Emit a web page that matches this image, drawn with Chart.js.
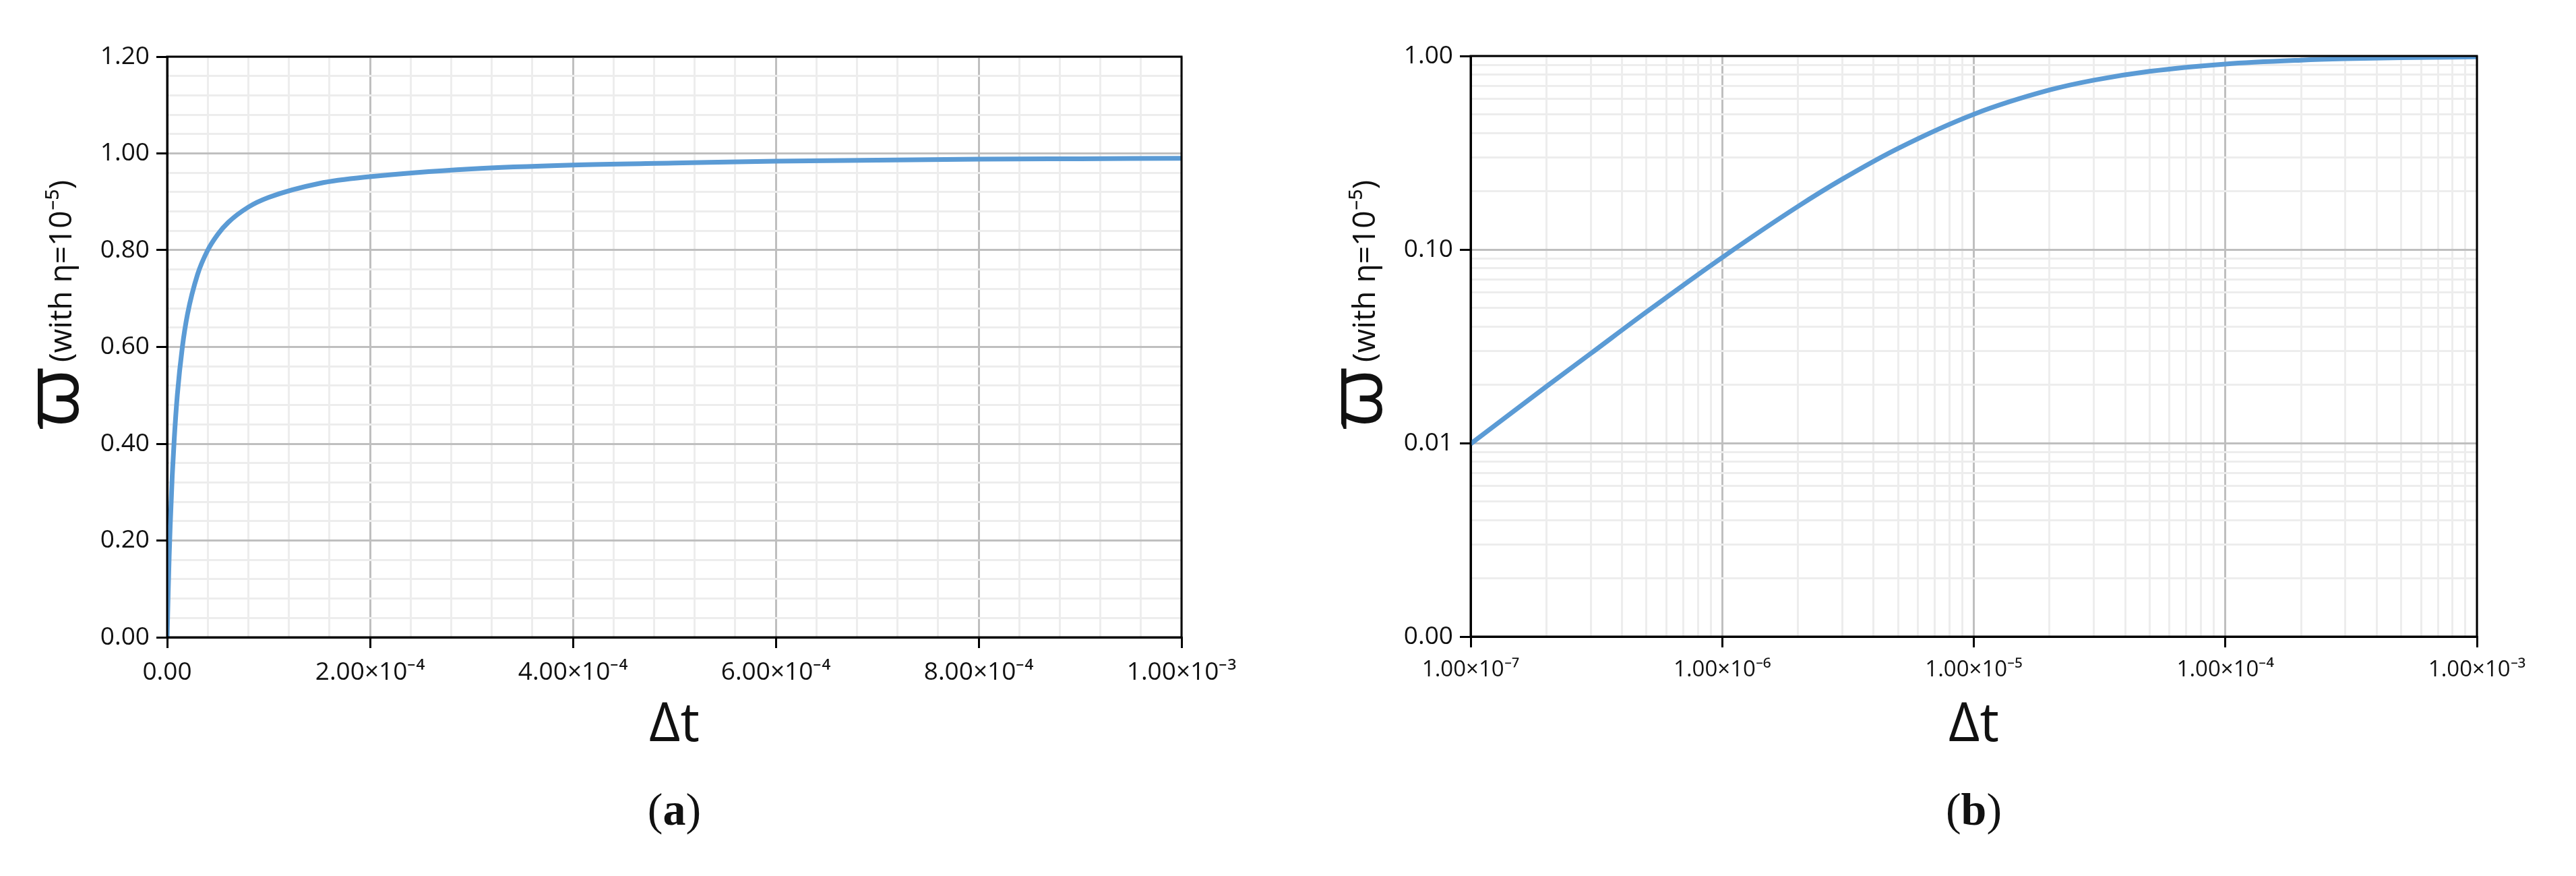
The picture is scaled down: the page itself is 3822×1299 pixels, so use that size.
<!DOCTYPE html>
<html><head><meta charset="utf-8">
<script src="https://cdn.jsdelivr.net/npm/chart.js@4"></script>
<style>
html,body{margin:0;padding:0;background:#fff;width:3822px;height:1299px;overflow:hidden}
.box{position:absolute;top:0;width:1911px;height:1299px}
</style></head><body>
<div class="box" style="left:0"><canvas id="ca"></canvas></div>
<div class="box" style="left:1911px"><canvas id="cb"></canvas></div>
<script>
// Panel (a): linear axes
const dtA = [0,1e-6,2e-6,3e-6,5e-6,7e-6,1e-5,1.5e-5,2e-5,3e-5,4e-5,5e-5,6e-5,8e-5,1e-4,1.5e-4,2e-4,3e-4,4e-4,5e-4,6e-4,7e-4,8e-4,9e-4,1e-3];
const wA  = [0,0.09,0.167,0.23,0.333,0.41,0.50,0.60,0.667,0.75,0.80,0.833,0.857,0.889,0.909,0.938,0.952,0.968,0.976,0.980,0.984,0.986,0.988,0.989,0.990];
// Panel (b): log-log axes
const dtB = [1e-7,2e-7,3e-7,5e-7,1e-6,2e-6,3e-6,5e-6,1e-5,2e-5,3e-5,5e-5,1e-4,2e-4,3e-4,5e-4,1e-3];
const wB  = [0.0099,0.0196,0.029,0.0476,0.091,0.167,0.231,0.333,0.50,0.667,0.75,0.833,0.909,0.952,0.968,0.980,0.990];
const xTicksA = ["0.00","2.00×10⁻⁴","4.00×10⁻⁴","6.00×10⁻⁴","8.00×10⁻⁴","1.00×10⁻³"];
const yTicksA = ["0.00","0.20","0.40","0.60","0.80","1.00","1.20"];
const xTicksB = {"-7":"1.00×10⁻⁷","-6":"1.00×10⁻⁶","-5":"1.00×10⁻⁵","-4":"1.00×10⁻⁴","-3":"1.00×10⁻³"};
const yTicksB = {"-3":"0.00","-2":"0.01","-1":"0.10","0":"1.00"};

const FONT = "'Open Sans', 'Liberation Sans', sans-serif";
const MAJ = '#bfbfbf', MIN = '#ededed';
const tickFont = {family: FONT, size: 37};

function decorate(label){
  return {
    id:'deco',
    afterDraw(chart){
      const c = chart.ctx, a = chart.chartArea;
      c.save();
      c.strokeStyle = '#000'; c.lineWidth = 3;
      c.strokeRect(a.left, a.top, a.right-a.left, a.bottom-a.top);
      const cx = (a.left+a.right)/2;
      c.fillStyle = '#111'; c.textAlign='center'; c.textBaseline='middle';
      c.font = "80px " + FONT;
      c.fillText('Δt', cx, 1076);
      // (a)/(b)
      c.font = "68px 'Liberation Serif', serif";
      const w1 = c.measureText('(').width;
      c.font = "bold 68px 'Liberation Serif', serif";
      const w2 = c.measureText(label).width;
      c.font = "68px 'Liberation Serif', serif";
      const w3 = c.measureText(')').width;
      let x = cx - (w1+w2+w3)/2;
      c.textAlign='left';
      c.fillText('(', x, 1205); x += w1;
      c.font = "bold 68px 'Liberation Serif', serif";
      c.fillText(label, x, 1205); x += w2;
      c.font = "68px 'Liberation Serif', serif";
      c.fillText(')', x, 1205);
      // y title rotated
      c.translate(a.left - 162, 455);
      c.rotate(-Math.PI/2);
      c.font = "112px " + FONT;
      const big = 'ϖ';
      const wb = c.measureText(big).width;
      c.font = "46px " + FONT;
      const sm = '(with η=10⁻⁵)';
      const ws = c.measureText(sm).width;
      let sx = -(wb+ws)/2;
      c.textAlign='left'; c.textBaseline='alphabetic';
      c.font = "112px " + FONT;
      c.fillText(big, sx, 30);
      c.font = "46px " + FONT;
      c.fillText(sm, sx+wb+6, 20);
      c.restore();
    }
  };
}
Chart.defaults.animation = false;

new Chart(document.getElementById('ca'), {
  type:'line',
  data:{datasets:[{data: dtA.map((x,i)=>({x, y:wA[i]})), borderColor:'#5b9bd5', borderWidth:7, pointRadius:0, cubicInterpolationMode:'monotone', fill:false}]},
  options:{
    responsive:true, maintainAspectRatio:false,
    layout:{padding:{left:148, top:84, right:158, bottom:204}},
    plugins:{legend:{display:false}, tooltip:{enabled:false}},
    scales:{
      x:{type:'linear', min:0, max:1e-3, afterFit(s){s.height=150;},
        afterBuildTicks(s){ s.ticks = []; for(let i=0;i<=25;i++) s.ticks.push({value: i*4e-5}); },
        ticks:{autoSkip:false, maxRotation:0, padding:14, font:tickFont, color:'#111',
          callback:(v,i)=> i%5===0 ? xTicksA[i/5] : ''},
        grid:{color:c=> c.index%5===0 ? MAJ : MIN, lineWidth:3, tickLength:16,
          tickColor:c=> c.index%5===0 ? '#000' : 'rgba(0,0,0,0)', tickWidth:3},
        border:{color:'#000', width:3}},
      y:{type:'linear', min:0, max:1.2, afterFit(s){s.width=100;},
        afterBuildTicks(s){ s.ticks = []; for(let i=0;i<=30;i++) s.ticks.push({value: i*0.04}); },
        ticks:{autoSkip:false, padding:10, font:tickFont, color:'#111',
          callback:(v,i)=> i%5===0 ? yTicksA[i/5] : ''},
        grid:{color:c=> c.index%5===0 ? MAJ : MIN, lineWidth:3, tickLength:16,
          tickColor:c=> c.index%5===0 ? '#000' : 'rgba(0,0,0,0)', tickWidth:3},
        border:{color:'#000', width:3}}
    }
  },
  plugins:[decorate('a')]
});

function isDec(v){ const e = Math.log10(v); return Math.abs(e-Math.round(e))<1e-6; }
function logTicks(lo, hi){ const t=[]; for(let e=lo;e<hi;e++){ for(let m=1;m<10;m++) t.push({value: m*Math.pow(10,e)}); } t.push({value:Math.pow(10,hi)}); return t; }

new Chart(document.getElementById('cb'), {
  type:'line',
  data:{datasets:[{data: dtB.map((x,i)=>({x, y:wB[i]})), borderColor:'#5b9bd5', borderWidth:7, pointRadius:0, cubicInterpolationMode:'monotone', fill:false}]},
  options:{
    responsive:true, maintainAspectRatio:false,
    layout:{padding:{left:171, top:83, right:147, bottom:205}},
    plugins:{legend:{display:false}, tooltip:{enabled:false}},
    scales:{
      x:{type:'logarithmic', min:1e-7, max:1e-3, afterFit(s){s.height=150;},
        afterBuildTicks(s){ s.ticks = logTicks(-7,-3); },
        ticks:{autoSkip:false, maxRotation:0, padding:14, font:{family:FONT,size:33}, color:'#111',
          callback:(v)=> isDec(v) ? xTicksB[String(Math.round(Math.log10(v)))] : ''},
        grid:{color:c=> isDec(c.tick.value) ? MAJ : MIN, lineWidth:3, tickLength:16,
          tickColor:c=> isDec(c.tick.value) ? '#000' : 'rgba(0,0,0,0)', tickWidth:3},
        border:{color:'#000', width:3}},
      y:{type:'logarithmic', min:1e-3, max:1, afterFit(s){s.width=100;},
        afterBuildTicks(s){ s.ticks = logTicks(-3,0); },
        ticks:{autoSkip:false, padding:10, font:tickFont, color:'#111',
          callback:(v)=> isDec(v) ? yTicksB[String(Math.round(Math.log10(v)))] : ''},
        grid:{color:c=> isDec(c.tick.value) ? MAJ : MIN, lineWidth:3, tickLength:16,
          tickColor:c=> isDec(c.tick.value) ? '#000' : 'rgba(0,0,0,0)', tickWidth:3},
        border:{color:'#000', width:3}}
    }
  },
  plugins:[decorate('b')]
});
</script></body></html>
